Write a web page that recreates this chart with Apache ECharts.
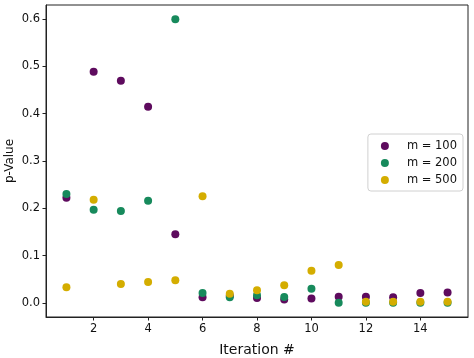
<!DOCTYPE html>
<html><head><meta charset="utf-8">
<script src="https://cdn.jsdelivr.net/npm/echarts@6/dist/echarts.min.js"></script>
<style>html,body{margin:0;padding:0;background:#fff}#c{width:474px;height:358px}</style>
</head><body><div id="c"></div>
<script>
const iterations = [1,2,3,4,5,6,7,8,9,10,11,12,13,14,15];
const m100 = [0.222,0.489,0.470,0.415,0.145,0.012,0.015,0.010,0.007,0.009,0.013,0.013,0.012,0.021,0.022];
const m200 = [0.230,0.197,0.194,0.216,0.600,0.021,0.012,0.016,0.0125,0.030,0.000,0.000,0.000,0.000,0.000];
const m500 = [0.033,0.218,0.040,0.044,0.048,0.2255,0.019,0.0265,0.037,0.068,0.080,0.002,0.002,0.002,0.002];
const seriesNames = ['m = 100','m = 200','m = 500'];
const xTicks = [2,4,6,8,10,12,14];
const yTicks = [0.0,0.1,0.2,0.3,0.4,0.5,0.6];
const colors = ['#5e0b5e','#178a5c','#d4ad00'];
const font = 'DejaVu Sans';
const chart = echarts.init(document.getElementById('c'), null, {renderer:'canvas'});
const pairs = arr => iterations.map((x,i)=>[x,arr[i]]);
chart.setOption({
  animation:false,
  grid:{left:46,right:6,top:5,bottom:41,show:true,borderColor:'#222',borderWidth:1,backgroundColor:'transparent',
    containLabel:false,outerBoundsMode:'none'},
  xAxis:{type:'value',min:0.25,max:15.75,name:'Iteration #',nameLocation:'middle',nameGap:26,nameMoveOverlap:false,
    nameTextStyle:{fontFamily:font,fontSize:14,color:'#111'},
    axisLine:{show:true,onZero:false,lineStyle:{color:'#222'}},
    axisTick:{show:true,length:3.5,customValues:xTicks,lineStyle:{color:'#222'}},
    axisLabel:{customValues:xTicks,fontFamily:font,fontSize:11.5,color:'#111',margin:6,formatter:v=>String(v)},
    splitLine:{show:false}},
  yAxis:{type:'value',min:-0.03,max:0.63,name:'p-Value',nameLocation:'middle',nameGap:30,nameMoveOverlap:false,
    nameTextStyle:{fontFamily:font,fontSize:12,color:'#111'},
    axisLine:{show:true,onZero:false,lineStyle:{color:'#222'}},
    axisTick:{show:true,length:3.5,customValues:yTicks,lineStyle:{color:'#222'}},
    axisLabel:{customValues:yTicks,fontFamily:font,fontSize:11.5,color:'#111',margin:6,formatter:v=>v.toFixed(1)},
    splitLine:{show:false}},
  legend:{orient:'vertical',right:11,top:134,data:seriesNames,icon:'circle',itemWidth:8,itemHeight:8,itemGap:3,
    borderColor:'#d0d0d0',borderWidth:1,borderRadius:3,padding:[5,6,4,13],backgroundColor:'#fff',
    textStyle:{fontFamily:font,fontSize:11.5,color:'#111',padding:[0,0,0,13],lineHeight:14}},
  series:[m100,m200,m500].map((arr,i)=>({name:seriesNames[i],type:'scatter',data:pairs(arr),symbolSize:8,
    itemStyle:{color:colors[i],opacity:1},z:2+i}))
});
</script></body></html>
